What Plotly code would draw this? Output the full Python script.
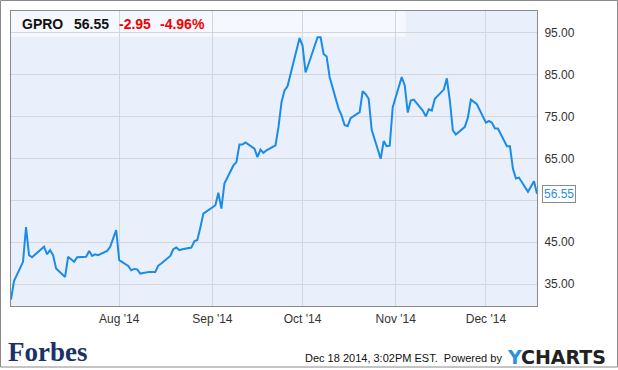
import plotly.graph_objects as go

# ---- data ----
dates = [
    "2014-06-26", "2014-06-27", "2014-06-30", "2014-07-01", "2014-07-02", "2014-07-03",
    "2014-07-07", "2014-07-08", "2014-07-09", "2014-07-10", "2014-07-11",
    "2014-07-14", "2014-07-15", "2014-07-16", "2014-07-17", "2014-07-18",
    "2014-07-21", "2014-07-22", "2014-07-23", "2014-07-24", "2014-07-25",
    "2014-07-28", "2014-07-29", "2014-07-30", "2014-07-31", "2014-08-01",
    "2014-08-04", "2014-08-05", "2014-08-06", "2014-08-07", "2014-08-08",
    "2014-08-11", "2014-08-12", "2014-08-13", "2014-08-14", "2014-08-15",
    "2014-08-18", "2014-08-19", "2014-08-20", "2014-08-21", "2014-08-22",
    "2014-08-25", "2014-08-26", "2014-08-27", "2014-08-28", "2014-08-29",
    "2014-09-02", "2014-09-03", "2014-09-04", "2014-09-05",
    "2014-09-08", "2014-09-09", "2014-09-10", "2014-09-11", "2014-09-12",
    "2014-09-15", "2014-09-16", "2014-09-17", "2014-09-18", "2014-09-19",
    "2014-09-22", "2014-09-23", "2014-09-24", "2014-09-25", "2014-09-26",
    "2014-09-29", "2014-09-30", "2014-10-01", "2014-10-02", "2014-10-03",
    "2014-10-06", "2014-10-07", "2014-10-08", "2014-10-09", "2014-10-10",
    "2014-10-13", "2014-10-14", "2014-10-15", "2014-10-16", "2014-10-17",
    "2014-10-20", "2014-10-21", "2014-10-22", "2014-10-23", "2014-10-24",
    "2014-10-27", "2014-10-28", "2014-10-29", "2014-10-30", "2014-10-31",
    "2014-11-03", "2014-11-04", "2014-11-05", "2014-11-06", "2014-11-07",
    "2014-11-10", "2014-11-11", "2014-11-12", "2014-11-13", "2014-11-14",
    "2014-11-17", "2014-11-18", "2014-11-19", "2014-11-20", "2014-11-21",
    "2014-11-24", "2014-11-25", "2014-11-26", "2014-11-28",
    "2014-12-01", "2014-12-02", "2014-12-03", "2014-12-04", "2014-12-05",
    "2014-12-08", "2014-12-09", "2014-12-10", "2014-12-11", "2014-12-12",
    "2014-12-15", "2014-12-16", "2014-12-17", "2014-12-18",
]
prices = [
    31.3, 35.7, 40.3, 48.6, 41.9, 41.4,
    43.9, 42.1, 43.1, 41.9, 38.7,
    36.7, 41.5, 41.0, 40.3, 41.4,
    41.5, 42.9, 41.7, 42.1, 41.9,
    42.9, 43.9, 45.9, 47.9, 40.7,
    39.3, 38.3, 38.6, 38.5, 37.5,
    37.9, 37.9, 37.9, 39.4, 39.9,
    41.7, 43.3, 43.7, 43.1, 43.3,
    43.7, 45.2, 45.5, 48.5, 51.8,
    53.8, 56.8, 53.0, 59.0,
    63.3, 64.1, 68.3, 68.3, 68.8,
    67.3, 65.3, 67.1, 66.3, 66.9,
    68.1, 72.5, 78.4, 81.2, 82.2,
    90.5, 93.7, 91.9, 85.5, 87.5,
    93.9, 93.9, 89.9, 89.3, 84.4,
    76.8, 75.2, 72.9, 72.7, 74.6,
    76.0, 81.0, 80.3, 79.2, 71.8,
    64.9, 69.1, 67.9, 68.0, 77.2,
    84.4, 82.4, 75.9, 78.8, 79.0,
    76.4, 75.0, 76.7, 76.4, 79.2,
    81.4, 84.1, 78.8, 71.7, 70.7,
    72.5, 74.7, 79.0, 77.9,
    73.5, 73.9, 73.5, 72.1, 72.1,
    67.9, 67.9, 62.5, 60.2, 60.4,
    57.0, 58.3, 59.5, 56.55,
]
ticker = "GPRO"
last_price = "56.55"
change = "-2.95"
change_pct = "-4.96%"
y_ticks = [35, 45, 55, 65, 75, 85, 95]
# the 55.00 label is hidden behind the last-value tag in the original
y_ticktext = ["35.00", "45.00", "", "65.00", "75.00", "85.00", "95.00"]
x_ticks = ["2014-08-01", "2014-09-01", "2014-10-01", "2014-11-01", "2014-12-01"]
x_ticktext = ["Aug '14", "Sep '14", "Oct '14", "Nov '14", "Dec '14"]
y_range = [29.76, 100.15]
x_range = ["2014-06-26", "2014-12-18"]
timestamp = "Dec 18 2014, 3:02PM EST.  Powered by"

# ---- geometry ----
W_FIG, H_FIG = 618, 370
L, R, T, B = 11, 81, 11, 64
PW = W_FIG - L - R
PH = H_FIG - T - B


def px(xp):
    return (xp - L) / PW


def py(yp):
    return (H_FIG - B - yp) / PH


fig = go.Figure()
fig.add_trace(go.Scatter(
    x=dates, y=prices, mode="lines",
    line=dict(color="#1A8BE8", width=2),
    hoverinfo="x+y", showlegend=False,
))

fig.update_layout(
    width=W_FIG, height=H_FIG,
    margin=dict(l=L, r=R, t=T, b=B),
    paper_bgcolor="white",
    plot_bgcolor="#E9F0FC",
    font=dict(family="Liberation Sans, Arial, sans-serif", size=12, color="#333333"),
    xaxis=dict(
        type="date", range=x_range,
        tickvals=x_ticks, ticktext=x_ticktext,
        showgrid=True, gridcolor="#D3D6DB", gridwidth=1,
        showline=True, linecolor="#8A8A8A", linewidth=1, mirror=True,
        ticks="outside", ticklen=2, tickcolor="rgba(0,0,0,0)",
        zeroline=False, fixedrange=True,
    ),
    yaxis=dict(
        side="right", range=y_range,
        tickvals=y_ticks, ticktext=y_ticktext,
        showgrid=True, gridcolor="#D3D6DB", gridwidth=1,
        showline=True, linecolor="#8A8A8A", linewidth=1, mirror=True,
        ticks="outside", ticklen=4, tickcolor="rgba(0,0,0,0)",
        zeroline=False, fixedrange=True,
    ),
)

shapes = []
# header band
shapes.append(dict(type="rect", xref="paper", yref="paper",
                   x0=px(L), x1=px(405.7), y0=py(36.7), y1=py(T),
                   fillcolor="rgba(255,255,255,0.55)", line=dict(width=0),
                   layer="between"))
# outer border
shapes.append(dict(type="rect", xref="paper", yref="paper",
                   x0=px(0.5), x1=px(617.5), y0=py(367), y1=py(0.5),
                   line=dict(color="#8A8A8A", width=1), fillcolor="rgba(0,0,0,0)",
                   layer="above"))
# notch of last-value label
shapes.append(dict(type="path", xref="x", yref="y",
                   xsizemode="pixel", ysizemode="pixel",
                   xanchor=dates[-1], yanchor=prices[-1],
                   path="M 0.5 0 L 6 5 L 6 -5 Z",
                   fillcolor="white", line=dict(color="#8A8A8A", width=1),
                   layer="above"))
fig.update_layout(shapes=shapes)

ann = []
hy = py(24)
hdr_font = dict(family="Liberation Sans, Arial, sans-serif", size=14)
for text, xp, col in [(ticker, 21.5, "#111111"), (last_price, 73.5, "#111111"),
                      (change, 119, "#F00000"), (change_pct, 160, "#F00000")]:
    ann.append(dict(xref="paper", yref="paper", x=px(xp), y=hy,
                    text="<b>%s</b>" % text, showarrow=False,
                    xanchor="left", yanchor="middle", borderpad=0, borderwidth=0,
                    font=dict(color=col, **hdr_font)))
# last value label
ann.append(dict(xref="paper", yref="y", x=1, y=prices[-1], xshift=5,
                text=last_price, showarrow=False, xanchor="left", yanchor="middle",
                bgcolor="white", bordercolor="#8A8A8A", borderwidth=1, borderpad=1,
                font=dict(color="#2A8FE0", size=12,
                          family="Liberation Sans, Arial, sans-serif")))
# Forbes logo text
ann.append(dict(xref="paper", yref="paper", x=px(7), y=py(352),
                text="<b>Forbes</b>", showarrow=False, xanchor="left", yanchor="middle",
                borderpad=0,
                font=dict(family="Liberation Serif, Times New Roman, serif",
                          size=27, color="#1B3267")))
# timestamp
ann.append(dict(xref="paper", yref="paper", x=px(503), y=py(358),
                text=timestamp, showarrow=False, xanchor="right", yanchor="middle",
                borderpad=0,
                font=dict(family="Liberation Sans, Arial, sans-serif", size=11,
                          color="#111111")))
# YCHARTS
ann.append(dict(xref="paper", yref="paper", x=px(506), y=py(357),
                text="<b>Y</b>", showarrow=False, xanchor="left", yanchor="middle",
                borderpad=0,
                font=dict(family="DejaVu Sans, sans-serif", size=19, color="#2E8FDB")))
ann.append(dict(xref="paper", yref="paper", x=px(520), y=py(357),
                text="<b>CHARTS</b>", showarrow=False, xanchor="left", yanchor="middle",
                borderpad=0,
                font=dict(family="DejaVu Sans, sans-serif", size=19, color="#222222")))
fig.update_layout(annotations=ann)

fig.write_html("out.html")
